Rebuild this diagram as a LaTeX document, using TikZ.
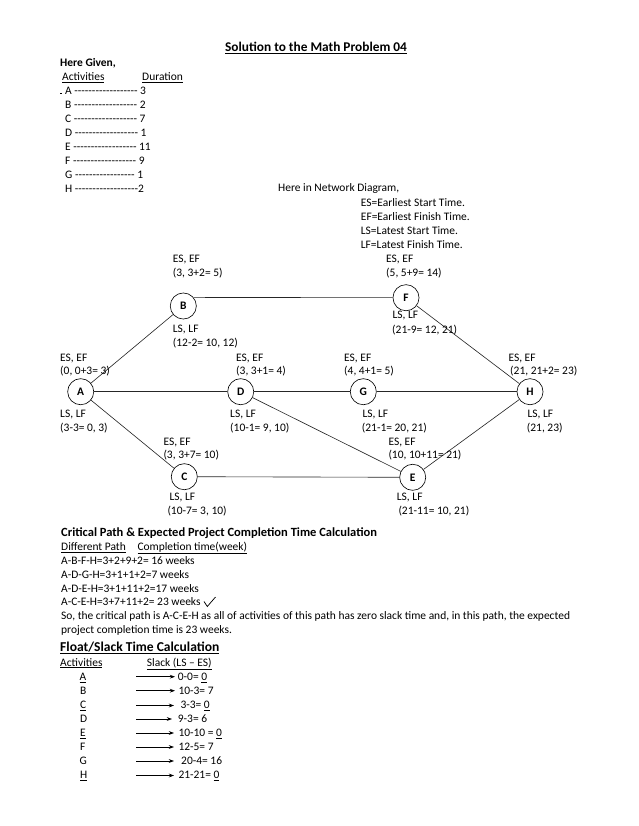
\documentclass[tikz,border=0pt]{standalone}
\usepackage{fontspec}
\setmainfont{Carlito}
\usetikzlibrary{arrows.meta}
\newcount\hypc
\newcommand\hyps[1]{\hypc=0\relax\loop\ifnum\hypc<#1\relax -\kern0pt\advance\hypc by 1\relax\repeat}
\begin{document}
\begin{tikzpicture}[x=0.959pt,y=-0.959pt,
  font=\fontsize{11}{13.4}\selectfont,
  txt/.style={anchor=base west, inner sep=0pt},
  ev/.style={circle, draw, line width=0.6pt, minimum size=25pt, inner sep=0pt, font=\fontsize{11}{13.4}\selectfont\bfseries},
  edge/.style={line width=0.6pt, draw=black!85},
  sarrow/.style={line width=0.6pt, -{Stealth[length=5pt,width=3.6pt]}},
  big/.style={font=\fontsize{13}{15}\selectfont\bfseries}]
\useasboundingbox (0,0) rectangle (638,826);
\newcommand\T[4]{\node[txt] (#1) at (#2,#3+3.7) {#4};}

% title and givens
\node[anchor=base, inner sep=0pt, font=\fontsize{12.8}{15}\selectfont\bfseries] (title) at (316,51.5) {\underline{Solution to the Math Problem 04}};
\T{given}{60}{63.3}{\textbf{Here Given,}}
\T{acth}{62}{76.7}{\underline{Activities}}
\T{durh}{142}{76.7}{\underline{Duration}}
\draw[line width=0.5pt] (60,93.5) -- (61.6,93.5);
\T{gA}{65}{91}{A \hyps{18} 3}
\T{gB}{65}{105}{B \hyps{18} 2}
\T{gC}{65}{119}{C \hyps{18} 7}
\T{gD}{65}{132.7}{D \hyps{18} 1}
\T{gE}{65}{146.7}{E \hyps{18} 11}
\T{gF}{65}{160.7}{F \hyps{18} 9}
\T{gG}{65}{175}{G \hyps{17} 1}
\T{gH}{65}{188.7}{H \hyps{18}2}

\T{nd}{278}{188.3}{Here in Network Diagram,}
\T{es}{360.7}{203.3}{ES=Earliest Start Time.}
\T{ef}{360.7}{217}{EF=Earliest Finish Time.}
\T{ls}{360.7}{231}{LS=Latest Start Time.}
\T{lf}{360.7}{245}{LF=Latest Finish Time.}

% events
\node[ev] (A) at (80.7,391.7) {A};
\node[ev] (B) at (183.3,306) {B};
\node[ev] (C) at (184.3,476.7) {C};
\node[ev] (D) at (240.7,391.7) {D};
\node[ev] (E) at (412.7,477.3) {E};
\node[ev] (F) at (406,297.7) {F};
\node[ev] (G) at (363.3,391.7) {G};
\node[ev] (H) at (530,391.7) {H};

\draw[edge] (A) -- (B);
\draw[edge] (A) -- (D);
\draw[edge] (A) -- (C);
\draw[edge] (B.40) -- (F);
\draw[edge] (D) -- (G);
\draw[edge] (G) -- (H);
\draw[edge] (F) -- (H);
\draw[edge] (D) -- (E);
\draw[edge] (C) -- (E);
\draw[edge] (E) -- (H);

% labels
\T{bes}{172.7}{259}{ES, EF}
\T{bev}{172.7}{273}{(3, 3+2= 5)}
\T{bls}{172.7}{329}{LS, LF}
\T{blv}{172.7}{342.7}{(12-2= 10, 12)}
\T{aes}{60}{357.7}{ES, EF}
\T{aev}{60}{371}{(0, 0+3= 3)}
\T{als}{60}{413.3}{LS, LF}
\T{alv}{60}{427.3}{(3-3= 0, 3)}
\T{des}{236}{357.7}{ES, EF}
\T{dev}{236}{371}{(3, 3+1= 4)}
\T{dls}{230}{413.3}{LS, LF}
\T{dlv}{230}{427.3}{(10-1= 9, 10)}
\T{fes}{386}{259}{ES, EF}
\T{fev}{386}{272.7}{(5, 5+9= 14)}
\T{fls}{392.3}{315}{LS, LF}
\T{flv}{392}{329.5}{(21-9= 12, 21)}
\T{ges}{344}{357.7}{ES, EF}
\T{gev}{344}{371}{(4, 4+1= 5)}
\T{gls}{362.3}{413.3}{LS, LF}
\T{glv}{361.7}{427.3}{(21-1= 20, 21)}
\T{hes}{508.3}{357.7}{ES, EF}
\T{hev}{510}{371}{(21, 21+2= 23)}
\T{hls}{527.3}{413.3}{LS, LF}
\T{hlv}{526.7}{427.3}{(21, 23)}
\T{ces}{163.3}{441.7}{ES, EF}
\T{cev}{163.3}{455}{(3, 3+7= 10)}
\T{cls}{169.3}{496.7}{LS, LF}
\T{clv}{167.3}{510.7}{(10-7= 3, 10)}
\T{ees}{388.3}{441.7}{ES, EF}
\T{eev}{388.3}{455}{(10, 10+11= 21)}
\T{els}{396.7}{496.7}{LS, LF}
\T{elv}{398.3}{510.7}{(21-11= 10, 21)}

% critical path
\node[txt, font=\fontsize{12}{14}\selectfont\bfseries] (cp) at (61,536.3) {Critical Path \& Expected Project Completion Time Calculation};
\T{dph}{61}{546.5}{\underline{Different Path}}
\T{cth}{137.3}{546.5}{\underline{Completion time(week)}}
\T{p1}{61}{560.7}{A-B-F-H=3+2+9+2= 16 weeks}
\T{p2}{61}{574.3}{A-D-G-H=3+1+1+2=7 weeks}
\T{p3}{61}{588.3}{A-D-E-H=3+1+11+2=17 weeks}
\T{p4}{61}{602}{A-C-E-H=3+7+11+2= 23 weeks}
\draw[line width=0.7pt] (204,601.5) -- (207.3,606.5) -- (215.5,597);
\T{so1}{61}{615.3}{So, the critical path is A-C-E-H as all of activities of this path has zero slack time and, in this path, the expected}
\T{so2}{61}{629.3}{project completion time is 23 weeks.}

% slack
\node[txt, big] (fs) at (60,651.5) {\underline{Float/Slack Time Calculation}};
\T{sah}{60}{662.3}{\underline{Activities}}
\T{ssh}{146.7}{662.3}{\underline{Slack (LS – ES)}}
\T{lA}{79.3}{676.7}{\underline{A}}
\T{lB}{80}{690.7}{B}
\T{lC}{80}{705}{\underline{C}}
\T{lD}{80}{718.7}{D}
\T{lE}{80}{732.7}{\underline{E}}
\T{lF}{80}{746.7}{F}
\T{lG}{79.3}{760.7}{G}
\T{lH}{80}{775}{\underline{H}}
\coordinate (sA0) at (136,676.7); \coordinate (sA1) at (175,676.7);
\coordinate (sB0) at (136,690.7); \coordinate (sB1) at (175,690.7);
\coordinate (sC0) at (136,705.5); \coordinate (sC1) at (174,705.5);
\coordinate (sD0) at (136,719); \coordinate (sD1) at (172,719);
\coordinate (sE0) at (136,733); \coordinate (sE1) at (174,733);
\coordinate (sF0) at (136,747); \coordinate (sF1) at (174,747);
\coordinate (sG0) at (136,761); \coordinate (sG1) at (174,761);
\coordinate (sH0) at (136,775.5); \coordinate (sH1) at (174,775.5);
\foreach \k in {A,B,C,D,E,F,G,H} {\draw[sarrow] (s\k0) -- (s\k1);}
\T{vA}{177.7}{676.7}{0-0= \underline{0}}
\T{vB}{178.3}{690.7}{10-3= 7}
\T{vC}{180.3}{705}{3-3= \underline{0}}
\T{vD}{177.7}{718.7}{9-3= 6}
\T{vE}{178.3}{732.7}{10-10 = \underline{0}}
\T{vF}{178.3}{746.7}{12-5= 7}
\T{vG}{181}{760.7}{20-4= 16}
\T{vH}{178.3}{775}{21-21= \underline{0}}
\end{tikzpicture}
\end{document}
